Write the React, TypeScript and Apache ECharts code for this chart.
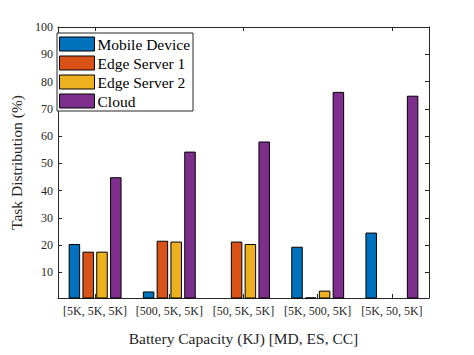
import React, { useEffect, useRef } from "react";
import * as echarts from "echarts";

const categories = ["[5K, 5K, 5K]", "[500, 5K, 5K]", "[50, 5K, 5K]", "[5K, 500, 5K]", "[5K, 50, 5K]"];
const seriesNames = ["Mobile Device", "Edge Server 1", "Edge Server 2", "Cloud"];
const mobileDevice = [20.4, 3.0, 0, 19.4, 24.6];
const edgeServer1 = [17.6, 21.6, 21.3, 0.8, 0];
const edgeServer2 = [17.6, 21.3, 20.4, 3.3, 0];
const cloud = [44.9, 54.3, 58.0, 76.2, 74.8];
const yTicks = [10, 20, 30, 40, 50, 60, 70, 80, 90, 100];
const yMin = 0.6;
const yMax = 100;

const colors = ["#0072BD", "#D95319", "#EDB120", "#7E2F8E"];
const FONT = "'Liberation Serif', 'Times New Roman', serif";
const AX = "#262626";

export default function App() {
  const ref = useRef<HTMLDivElement>(null);
  useEffect(() => {
    if (!ref.current) return;
    const chart = echarts.init(ref.current, null, { renderer: "svg" });
    const values = [mobileDevice, edgeServer1, edgeServer2, cloud];
    chart.setOption({
      animation: false,
      backgroundColor: "#ffffff",
      grid: { left: 49, right: 45, top: 27, bottom: 57, containLabel: false },
      legend: {
        show: true,
        orient: "vertical",
        left: 57,
        top: 33,
        padding: [3, 3, 2, 2],
        itemWidth: 35,
        itemHeight: 14,
        itemGap: 3,
        borderColor: AX,
        borderWidth: 1,
        backgroundColor: "#ffffff",
        icon: "rect",
        itemStyle: { borderWidth: 1, borderColor: "#000" },
        textStyle: { fontFamily: FONT, fontSize: 15.5, lineHeight: 16, color: "#000", padding: [0, 0, 0, -2] },
        data: seriesNames,
      },
      xAxis: [
        {
          type: "category",
          data: categories,
          position: "bottom",
          boundaryGap: true,
          axisLine: { show: true, onZero: false, lineStyle: { color: AX, width: 1 } },
          axisTick: { show: true, inside: true, alignWithLabel: true, length: 4, lineStyle: { color: AX } },
          axisLabel: { fontFamily: FONT, fontSize: 12, color: AX, margin: 7, interval: 0 },
          name: "Battery Capacity (KJ) [MD, ES, CC]",
          nameLocation: "middle",
          nameGap: 32,
          nameTextStyle: { fontFamily: FONT, fontSize: 15.5, color: AX },
        },
        {
          type: "category",
          data: categories,
          position: "top",
          boundaryGap: true,
          axisLine: { show: true, onZero: false, lineStyle: { color: AX, width: 1 } },
          axisTick: { show: true, inside: true, alignWithLabel: true, length: 4, lineStyle: { color: AX } },
          axisLabel: { show: false },
        },
      ],
      yAxis: [
        {
          type: "value",
          min: yMin,
          max: yMax,
          position: "left",
          splitLine: { show: false },
          axisLine: { show: true, onZero: false, lineStyle: { color: AX, width: 1 } },
          axisTick: { show: true, inside: true, length: 4, customValues: yTicks, lineStyle: { color: AX } },
          axisLabel: { fontFamily: FONT, fontSize: 12, color: AX, margin: 5, customValues: yTicks },
          name: "Task Distribution (%)",
          nameLocation: "middle",
          nameGap: 34,
          nameTextStyle: { fontFamily: FONT, fontSize: 15.5, color: AX },
        },
        {
          type: "value",
          min: yMin,
          max: yMax,
          position: "right",
          splitLine: { show: false },
          axisLine: { show: true, onZero: false, lineStyle: { color: AX, width: 1 } },
          axisTick: { show: true, inside: true, length: 4, customValues: yTicks, lineStyle: { color: AX } },
          axisLabel: { show: false, customValues: yTicks },
        },
      ],
      series: seriesNames.map((name, i) => ({
        name,
        type: "bar",
        xAxisIndex: 0,
        yAxisIndex: 0,
        data: values[i],
        barWidth: 11.5,
        barGap: "20%",
        clip: true,
        itemStyle: { color: colors[i], borderColor: "#000", borderWidth: 1 },
      })),
    });
    return () => chart.dispose();
  }, []);
  return (
    <div
      ref={ref}
      style={{ position: "fixed", left: 0, top: 0, width: 474, height: 355, background: "#fff" }}
    />
  );
}
